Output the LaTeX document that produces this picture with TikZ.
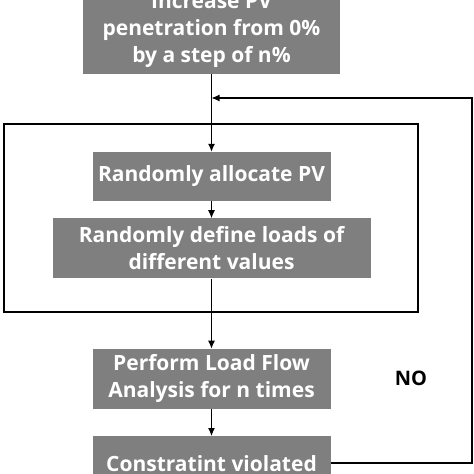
\documentclass[tikz,border=0pt]{standalone}
\usepackage{fontspec}
\setmainfont[Ligatures=NoCommon]{Open Sans}
\usetikzlibrary{positioning,arrows.meta}
\definecolor{boxgray}{HTML}{7F7F7F}
\tikzstyle{blk}=[fill=boxgray, text=white, font=\fontsize{21}{27}\selectfont\bfseries, align=center, inner sep=0pt, minimum height=60pt]
\tikzstyle{flow}=[line width=1.1pt, -{Latex[length=8pt,width=7pt]}]

\begin{document}
\begin{tikzpicture}[x=1pt,y=-1pt,node distance=17pt]
   \useasboundingbox (0,0) rectangle (474,474);
   \clip (0,0) rectangle (474,474);
   \node[blk,minimum width=257pt,minimum height=86pt] (inc) at (211.5,31) {Increase PV\\penetration from 0\%\\by a step of n\%};
   \node[blk,minimum width=238pt,minimum height=49pt] (alloc) at (211.5,176.5) {Randomly allocate PV};
   \node[blk,minimum width=318pt] (loads) [below=17pt of alloc] {Randomly define loads of\\different values};
   \node[blk,minimum width=238pt] (lf) [below=70pt of loads] {Perform Load Flow\\Analysis for n times};
   \node[blk,minimum width=238pt,minimum height=54pt] (cons) [below=27pt of lf] {Constratint violated};
   \node[font=\fontsize{20}{26}\selectfont\bfseries] (no) at (411,378) {NO};
   % frame round the random part
   \draw[line width=1.5pt] (4,124) rectangle (418,312);
   \coordinate (join) at (inc.south |- 0,98);
   \coordinate (corner) at (472,463);
   \draw[line width=1.1pt] (inc) -- (join);
   \draw[flow] (join) -- (alloc);
   \draw[flow] (alloc) -- (loads);
   \draw[flow] (loads) -- (lf);
   \draw[flow] (lf) -- (cons);
   \draw[flow] (cons.east |- corner) -- (corner) |- (join);
\end{tikzpicture}
\end{document}
